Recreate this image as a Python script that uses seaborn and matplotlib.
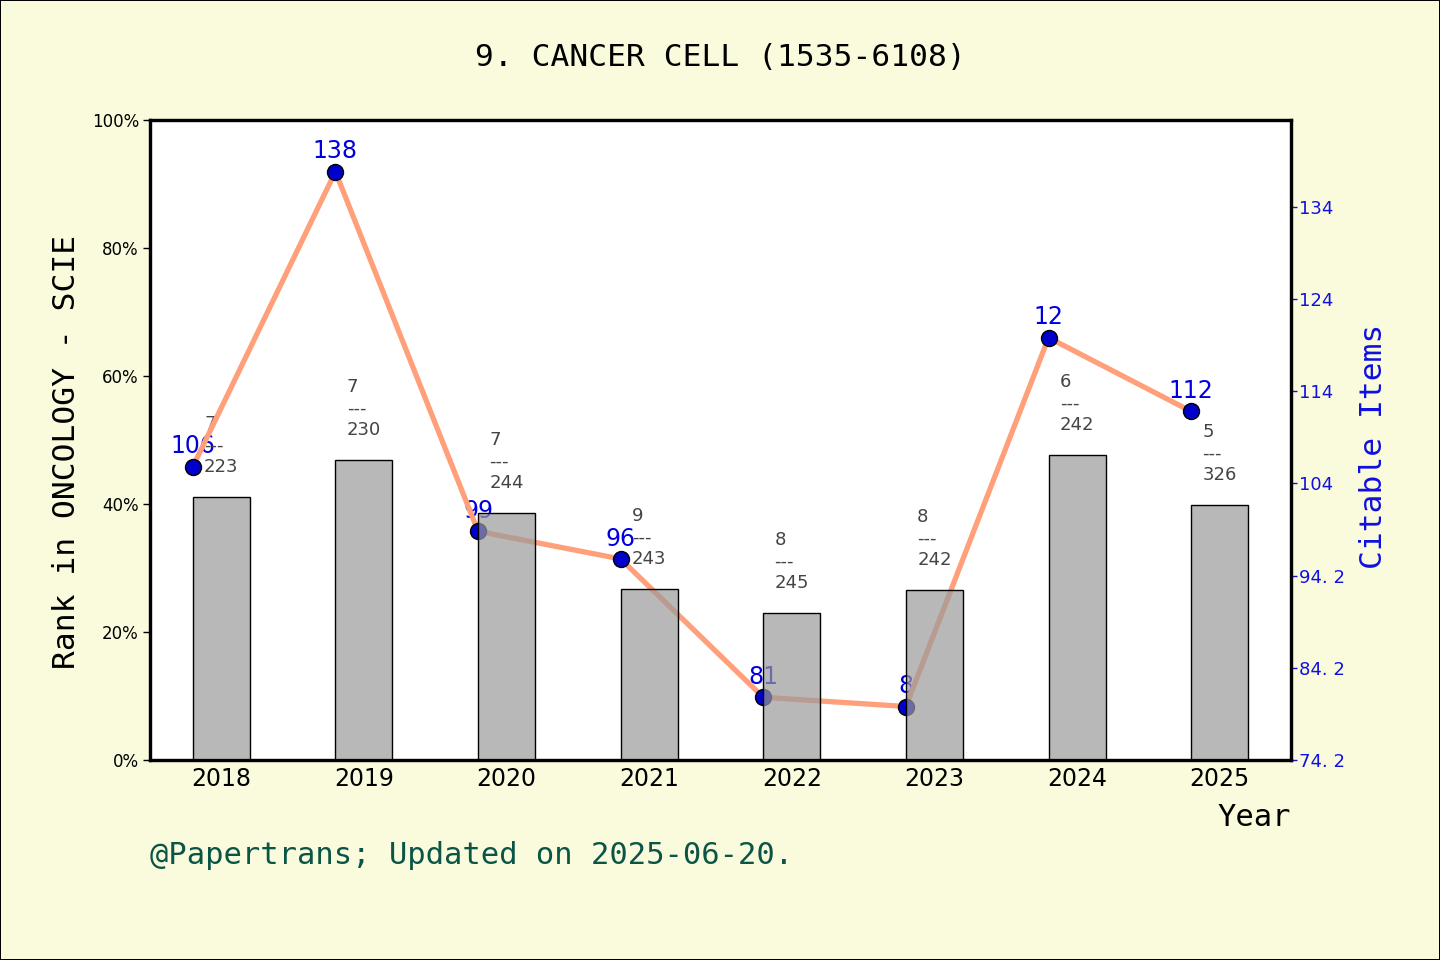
import numpy as np
import matplotlib
matplotlib.use("Agg")
import matplotlib.pyplot as plt
from matplotlib.ticker import FuncFormatter
import seaborn as sns

# values
years = ['2018', '2019', '2020', '2021', '2022', '2023', '2024', '2025']
rank_pct = [41.1, 46.9, 38.6, 26.7, 23.0, 26.6, 47.7, 39.8]
rank_num = [7, 7, 7, 9, 8, 8, 6, 5]
rank_total = [223, 230, 244, 243, 245, 242, 242, 326]
citable = [106, 138, 99, 96, 81, 80, 120, 112]
citable_labels = ['106', '138', '99', '96', '81', '8', '12', '112']
right_ticks = [74.2, 84.2, 94.2, 104.2, 114.2, 124.2, 134.2]
right_tick_labels = ['74. 2', '84. 2', '94. 2', '104', '114', '124', '134']

sns.set_style("white")
plt.rcParams['font.family'] = ['DejaVu Sans']
mono = 'DejaVu Sans Mono'

fig = plt.figure(figsize=(14.4, 9.6), dpi=100, facecolor='#FAFADC',
                 edgecolor='black', linewidth=1.2)
ax = fig.add_axes([150 / 1440, 1 - 760 / 960, (1291 - 150) / 1440, 640 / 960])

# bars: rank percentile
sns.barplot(x=years, y=rank_pct, ax=ax, color='#9A9A9B', saturation=1,
            width=0.4, linewidth=1)
for p in ax.patches:
    p.set_facecolor((0.604, 0.604, 0.608, 0.7))
    p.set_edgecolor('black')
    p.set_linewidth(1)

# secondary axis: citable items
ax2 = ax.twinx()
xpos = np.arange(len(years)) - 0.2
sns.lineplot(x=xpos, y=citable, ax=ax2, color='#FFA07A', linewidth=3.8,
             marker='o', markersize=11.5, markerfacecolor='#0000CD',
             markeredgecolor='black', markeredgewidth=1, zorder=2)

for x, v, lab in zip(xpos, citable, citable_labels):
    ax2.annotate(lab, xy=(x, v), xytext=(0, 6), textcoords='offset points',
                 ha='center', va='bottom', color='#0000DD', fontsize=17, zorder=1)

for i, (pct, n, tot) in enumerate(zip(rank_pct, rank_num, rank_total)):
    ax2.annotate(f"{n}\n---\n{tot}", xy=(i, pct), xycoords=ax.transData,
                 xytext=(0, 15), textcoords='offset points', ha='center',
                 va='bottom', multialignment='left', linespacing=1.25,
                 color='#444444', fontsize=13, zorder=1)

# layering: bars drawn above the line
ax.set_zorder(ax2.get_zorder() + 1)
ax.patch.set_visible(False)
ax2.patch.set_visible(True)
ax2.patch.set_facecolor('white')

ax.set_xlim(-0.5, 7.5)
ax.set_ylim(0, 100)
ax.set_yticks([0, 20, 40, 60, 80, 100])
ax.yaxis.set_major_formatter(FuncFormatter(lambda v, _: f"{v:.0f}%"))
ax.set_xlabel('')
ax.set_ylabel('')
ax.set_xticks(range(len(years)))
ax.set_xticklabels(years)
ax.set_xticks(np.arange(len(years) - 1) + 0.5, minor=True)
ax.tick_params(axis='x', which='major', length=0, pad=5, labelsize=17, colors='black')
ax.tick_params(axis='x', which='minor', direction='in', length=5, width=1, color='black')
ax.tick_params(axis='y', which='major', direction='out', length=5, width=1,
               pad=3, labelsize=12, colors='black', left=True)

ax2.set_ylim(74.2, 143.6)
ax2.set_yticks(right_ticks)
ax2.set_yticklabels(right_tick_labels)
ax2.set_ylabel('')
ax2.tick_params(axis='y', direction='out', length=4, width=1, pad=2,
                labelsize=13, colors='#1010E0', right=True)

for a in (ax, ax2):
    for s in a.spines.values():
        s.set_visible(True)
        s.set_linewidth(2.3)
        s.set_color('black')

fig.text(0.5, 1 - 57 / 960, '9. CANCER CELL (1535-6108)', ha='center', va='center',
         fontsize=22.5, family=mono, color='black')
fig.text(67 / 1440, 1 - 452 / 960, 'Rank in ONCOLOGY - SCIE', rotation=90,
         ha='center', va='center', fontsize=22.5, family=mono, color='black')
fig.text(1373 / 1440, 1 - 446 / 960, 'Citable Items', rotation=90,
         ha='center', va='center', fontsize=22.5, family=mono, color='#1010E0')
fig.text(1291 / 1440, 1 - 817 / 960, 'Year', ha='right', va='center',
         fontsize=22, family=mono, color='black')
fig.text(150 / 1440, 1 - 855 / 960, '@Papertrans; Updated on 2025-06-20.',
         ha='left', va='center', fontsize=22, family=mono, color='#0B5547')

fig.savefig('out.png', dpi=100, facecolor=fig.get_facecolor(), edgecolor='black')
